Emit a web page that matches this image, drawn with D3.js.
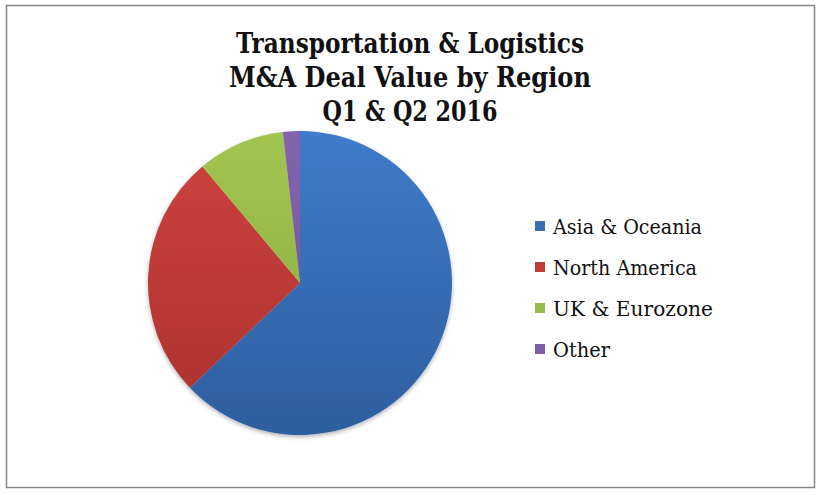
<!DOCTYPE html>
<html>
<head>
<meta charset="utf-8">
<script src="https://cdn.jsdelivr.net/npm/d3@7"></script>
<style>
  body { margin: 0; background: #fff; }
  svg { display: block; }
  .serif { font-family: "DejaVu Serif", "Liberation Serif", serif; }
</style>
</head>
<body>
<svg id="svg"></svg>
<script>
// chart values (percent of deal value)
var regions = ["Asia & Oceania", "North America", "UK & Eurozone", "Other"];
var dealShare = [62.9, 26.0, 9.3, 1.8];
var sliceColors = ["#3a6fb8", "#c23d39", "#98bb4a", "#7d5ea6"];
var sliceLight = ["#3f7bca", "#cf423e", "#a2c552", "#8464ae"];
var sliceDark = ["#2e5e9e", "#a9322e", "#88a93f", "#6c4f95"];
var titleLines = ["Transportation & Logistics", "M&A Deal Value by Region", "Q1 & Q2 2016"];
// measured widths of the text in the reference, so the wider fallback font fits
var titleWidths = [348, 362, 175];
var legendWidths = [149, 144, 160, 57];

var width = 822, height = 495;
var cx = 300, cy = 283, radius = 152;

var svg = d3.select("#svg").attr("width", width).attr("height", height);

// outer frame
svg.append("rect")
    .attr("x", 6.5).attr("y", 5.5)
    .attr("width", 808).attr("height", 482)
    .attr("fill", "#fff")
    .attr("stroke", "#878787")
    .attr("stroke-width", 1.5);

var defs = svg.append("defs");
regions.forEach(function(r, i) {
    var g = defs.append("linearGradient")
        .attr("id", "grad" + i)
        .attr("gradientUnits", "userSpaceOnUse")
        .attr("x1", 0).attr("y1", -radius)
        .attr("x2", 0).attr("y2", radius);
    g.append("stop").attr("offset", "0%").attr("stop-color", sliceLight[i]);
    g.append("stop").attr("offset", "100%").attr("stop-color", sliceDark[i]);
});
var shadow = defs.append("filter").attr("id", "shadow")
    .attr("x", "-10%").attr("y", "-10%").attr("width", "120%").attr("height", "125%");
shadow.append("feDropShadow")
    .attr("dx", 0).attr("dy", 2).attr("stdDeviation", 2)
    .attr("flood-color", "#000").attr("flood-opacity", 0.3);

// title
svg.append("text")
    .attr("class", "serif")
    .attr("text-anchor", "middle")
    .style("font-weight", "bold")
    .style("font-size", "27px")
    .attr("fill", "#111")
    .selectAll("tspan")
    .data(titleLines)
    .enter()
    .append("tspan")
    .attr("x", 410)
    .attr("y", (d, i) => 53 + i * 34)
    .attr("textLength", (d, i) => titleWidths[i])
    .attr("lengthAdjust", "spacingAndGlyphs")
    .text(d => d);

// pie
var data = regions.map((r, i) => ({ name: r, value: dealShare[i], idx: i }));
var pie = d3.pie().sort(null).value(d => d.value);
var arc = d3.arc().innerRadius(0).outerRadius(radius);

var pieG = svg.append("g")
    .attr("transform", `translate(${cx}, ${cy})`)
    .attr("filter", "url(#shadow)");

pieG.selectAll("path")
    .data(pie(data))
    .enter()
    .append("path")
    .attr("d", arc)
    .style("fill", d => `url(#grad${d.data.idx})`);

// legend
var legendY = d3.scalePoint().domain(regions).range([226, 349]);
var legend = svg.append("g");
var item = legend.selectAll("g")
    .data(regions)
    .enter()
    .append("g")
    .attr("transform", d => `translate(535, ${legendY(d)})`);

item.append("rect")
    .attr("x", 0).attr("y", -5)
    .attr("width", 10).attr("height", 10)
    .style("fill", (d, i) => sliceColors[i]);

item.append("text")
    .attr("class", "serif")
    .attr("x", 18).attr("y", 7.5)
    .style("font-size", "20.5px")
    .attr("fill", "#111")
    .attr("textLength", (d, i) => legendWidths[i])
    .attr("lengthAdjust", "spacingAndGlyphs")
    .text(d => d);
</script>
</body>
</html>
